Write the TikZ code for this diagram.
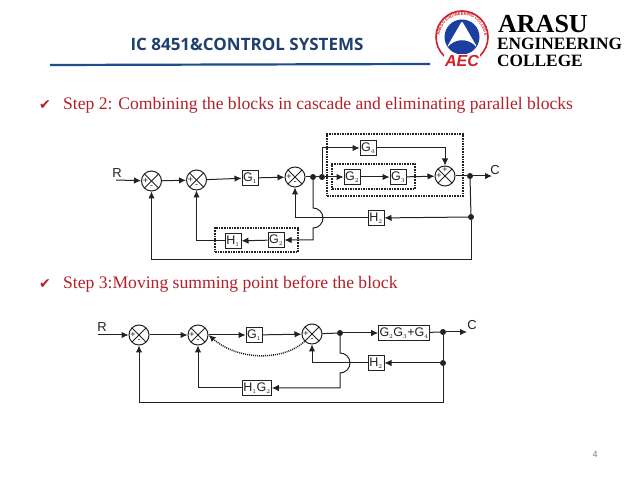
\documentclass[tikz,border=0pt]{standalone}
\usepackage{fontspec}
\setmainfont{Liberation Serif}
\newfontfamily\titlefont{Open Sans}
\newfontfamily\labelfont{Liberation Sans}
\newfontfamily\tickfont{DejaVu Sans}
\usetikzlibrary{shapes,arrows.meta}
\usetikzlibrary{positioning}
\usetikzlibrary{decorations.text}
\definecolor{navy}{HTML}{1F3F6E}
\definecolor{rulecol}{HTML}{1F4E8C}
\definecolor{stepred}{HTML}{B3202A}
\definecolor{inkgray}{HTML}{222222}
\definecolor{logoblue}{HTML}{1B3FA0}
\definecolor{logored}{HTML}{D0202A}
\tikzstyle{block} = [rectangle, draw=inkgray, line width=1pt, fill=white, inner sep=0.8pt,
    minimum height=15pt, minimum width=16pt, font=\labelfont\fontsize{12.5}{14}\selectfont, text=inkgray]
\tikzstyle{sumpm} = [circle, draw=inkgray, line width=1pt, fill=white, minimum size=20pt, inner sep=0pt,
    path picture={
      \draw [inkgray, line width=0.8pt] (path picture bounding box.north west) -- (path picture bounding box.south east);
      \draw [inkgray, line width=0.8pt] (path picture bounding box.north east) -- (path picture bounding box.south west);
      \node [signtext] at ([xshift=-6pt]path picture bounding box.center) {+};
      \node [signtext] at ([yshift=-6pt]path picture bounding box.center) {-};
    }]
\tikzstyle{sumpp} = [circle, draw=inkgray, line width=1pt, fill=white, minimum size=20pt, inner sep=0pt,
    path picture={
      \draw [inkgray, line width=0.8pt] (path picture bounding box.north west) -- (path picture bounding box.south east);
      \draw [inkgray, line width=0.8pt] (path picture bounding box.north east) -- (path picture bounding box.south west);
      \node [signtext] at ([xshift=-6pt]path picture bounding box.center) {+};
      \node [signtext] at ([yshift=6pt]path picture bounding box.center) {+};
    }]
\tikzstyle{signtext} = [inner sep=0pt, text=inkgray, font=\labelfont\fontsize{9}{10}\selectfont]
\tikzstyle{dot} = [circle, fill=inkgray, minimum size=6pt, inner sep=0pt]
\tikzstyle{line} = [draw=inkgray, line width=1pt, -{Latex[length=7pt,width=6.5pt]}]
\tikzstyle{wire} = [draw=inkgray, line width=1pt]
\tikzstyle{dotbox} = [rectangle, draw=inkgray, line width=1.6pt, densely dotted, inner sep=0pt]
\tikzstyle{sig} = [inner sep=0pt, text=inkgray, font=\labelfont\fontsize{13}{15}\selectfont]
\tikzstyle{steptext} = [inner sep=0pt, anchor=base west, text=stepred, font=\fontsize{17.6}{20}\selectfont]
\tikzstyle{tick} = [inner sep=0pt, anchor=base west, text=stepred, font=\tickfont\fontsize{14}{16}\selectfont]
\tikzstyle{college} = [inner sep=0pt, anchor=base west, text=black, font=\bfseries\fontsize{17.3}{19}\selectfont]

\begin{document}
\begin{tikzpicture}[x=1pt, y=-1pt]
    \useasboundingbox (0,0) rectangle (638,478);

    % Header
    \node [inner sep=0pt, text=navy, font=\titlefont\bfseries\fontsize{17}{19}\selectfont] (title) at (247,44.5) {IC 8451\&CONTROL SYSTEMS};
    \coordinate (ruleL) at (50,65);
    \coordinate (ruleR) at (430,64);
    \draw [rulecol, line width=2.2pt] (ruleL) -- (ruleR);

    % Logo
    \coordinate (logo) at (462,37);
    \draw [logored, line width=1.6pt] (logo) circle (26pt);
    \fill [logoblue] (logo) circle (17.5pt);
    \fill [white, rounded corners=2pt] (462,21) -- (477,47) -- (447,47) -- cycle;
    \fill [logoblue] (451,44) .. controls (458,39) and (466,39) .. (473,44) -- (476,47) -- (448,47) -- cycle;
    \path [postaction={decorate, decoration={text along path, text align=center, text color=logored,
        text={|\labelfont\bfseries\fontsize{4.2}{5}\selectfont|ARASU ENGINEERING COLLEGE}}}]
        (442,48) arc [start angle=207, end angle=-27, radius=22.5pt];
    \node [fill=white, inner sep=1pt, text=logored, font=\labelfont\bfseries\itshape\fontsize{16}{18}\selectfont] (aec) at (462,61) {AEC};
    \node [college, font=\bfseries\fontsize{26}{28}\selectfont] (arasu) at (498,33) {ARASU};
    \node [college] (engg) at (497,50) {ENGINEERING};
    \node [college] (coll) at (497,67) {COLLEGE};

    % Step texts
    \node [tick] (tick1) at (39,110) {✔};
    \node [steptext] (step1) at (63,110) {Step 2: Combining the blocks in cascade and eliminating parallel blocks};
    \node [tick] (tick2) at (39,289) {✔};
    \node [steptext] (step2) at (63,289) {Step 3:Moving summing point before the block};

    % Place nodes, upper diagram
    \coordinate (rA) at (116,180);
    \node [sig] (rlabA) at (117,173) {R};
    \node [sumpm] (s1) at (151.5,181) {};
    \node [sumpm] (s2) at (196.5,180) {};
    \node [block] (g1) at (250,178) {G$_{\scriptscriptstyle 1}$};
    \node [sumpm] (s3) at (295,177) {};
    \node [dot] (d1) at (313,177) {};
    \node [dot] (d2) at (322,177) {};
    \node [block] (g4) at (368,148) {G$_{\scriptscriptstyle 4}$};
    \node [block] (g2) at (352,177) {G$_{\scriptscriptstyle 2}$};
    \node [block] (g3) at (398,177) {G$_{\scriptscriptstyle 3}$};
    \node [sumpp] (s4) at (445,176) {};
    \node [dot] (d3) at (470,176) {};
    \node [sig] (clabA) at (495,170) {C};
    \coordinate (cA) at (492,176);
    \node [block] (h2) at (376,218) {H$_{\scriptscriptstyle 2}$};
    \node [dot] (d4) at (471,217) {};
    \node [block] (g2b) at (276,240) {G$_{\scriptscriptstyle 2}$};
    \node [block] (h1) at (233,241) {H$_{\scriptscriptstyle 1}$};
    \node [dotbox, minimum width=136pt, minimum height=62pt] (outer) at (395,165) {};
    \node [dotbox, minimum width=83pt, minimum height=25pt] (inner) at (373.5,176.5) {};
    \node [dotbox, minimum width=83pt, minimum height=24pt] (fbox) at (256.5,240) {};

    % Draw edges, upper diagram
    \path [line] (rA) -- (s1);
    \path [line] (s1) -- (s2);
    \path [line] (s2) -- (g1);
    \path [line] (g1) -- (s3);
    \path [wire] (s3) -- (d1);
    \path [wire] (d1) -- (d2);
    \path [line] (d2) -- (g2);
    \path [line] (d2) |- (g4);
    \path [line] (g2) -- (g3);
    \path [line] (g3) -- (s4);
    \path [line] (g4) -| (s4);
    \path [wire] (s4) -- (d3);
    \path [line] (d3) -- (cA);
    \path [wire] (d3) -- (d4);
    \path [line] (d4) -- (h2);
    \path [line] (h2) -| (s3);
    \path [line] (d1) -- (313,208) arc [start angle=90, end angle=-90, radius=10pt] |- (g2b);
    \path [line] (g2b) -- (h1);
    \path [line] (h1) -| (s2);
    \path [line] (d4) |- (151.5,260) -- (s1);

    % Place nodes, lower diagram
    \coordinate (rB) at (98,335);
    \node [sig] (rlabB) at (102,327) {R};
    \node [sumpm] (t1) at (139,335) {};
    \node [sumpm] (t2) at (198,335) {};
    \node [block] (k1) at (254,335) {G$_{\scriptscriptstyle 1}$};
    \node [sumpm] (t3) at (312,334) {};
    \node [dot] (e1) at (340,333) {};
    \node [block] (k2) at (404,333) {G$_{\scriptscriptstyle 2}$G$_{\scriptscriptstyle 3}$+G$_{\scriptscriptstyle 4}$};
    \node [dot] (e2) at (443,332) {};
    \node [sig] (clabB) at (472,325) {C};
    \coordinate (cB) at (467,332);
    \node [block] (k3) at (376,363) {H$_{\scriptscriptstyle 2}$};
    \node [dot] (e3) at (443,363) {};
    \node [block] (k4) at (257,388) {H$_{\scriptscriptstyle 1}$G$_{\scriptscriptstyle 2}$};

    % Draw edges, lower diagram
    \path [line] (rB) -- (t1);
    \path [line] (t1) -- (t2);
    \path [line] (t2) -- (k1);
    \path [line] (k1) -- (t3);
    \path [wire] (t3) -- (e1);
    \path [line] (e1) -- (k2);
    \path [wire] (k2) -- (e2);
    \path [line] (e2) -- (cB);
    \path [wire] (e2) -- (e3);
    \path [line] (e3) -- (k3);
    \path [line] (k3) -| (t3);
    \path [line] (e1) -- (340,353) arc [start angle=90, end angle=-90, radius=10pt] |- (k4);
    \path [line] (k4) -| (t2);
    \path [line] (e3) |- (139,403) -- (t1);
    \path [line, densely dotted, line width=1.5pt] (t3.south west) .. controls (285,360) and (240,362) .. (t2.east);

    % Page number
    \node [inner sep=0pt, text=gray, font=\labelfont\fontsize{9}{11}\selectfont] (pageno) at (595,454) {4};
\end{tikzpicture}
\end{document}
